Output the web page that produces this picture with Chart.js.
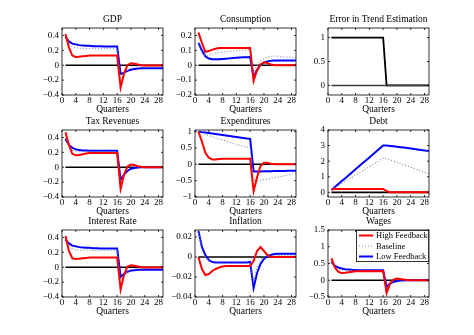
<!DOCTYPE html>
<html>
<head>
<meta charset="utf-8">
<script src="https://cdn.jsdelivr.net/npm/chart.js@4.4.0/dist/chart.umd.min.js"></script>
<style>
  html, body { margin: 0; padding: 0; background: #fff; }
  body { width: 474px; height: 335px; position: relative; overflow: hidden; }
  canvas { position: absolute; }
</style>
</head>
<body>
<script>
// ---- data -------------------------------------------------------------
const quarters = [1,2,3,4,5,6,7,8,9,10,11,12,13,14,15,16,17,18,19,20,21,22,23,24,25,26,27,28,29,30];
const xTicks = [0,4,8,12,16,20,24,28];
const seriesNames = ['High Feedback', 'Baseline', 'Low Feedback'];

const gdpHigh = [0.42,0.24,0.13,0.11,0.115,0.12,0.125,0.13,0.13,0.13,0.13,0.13,0.13,0.13,0.13,0.13,-0.30,-0.11,0.00,0.025,0.02,0.01,0.0,-0.005,-0.005,-0.005,-0.005,-0.005,-0.005,-0.005];
const gdpBase = [0.40,0.30,0.25,0.235,0.23,0.225,0.225,0.225,0.225,0.225,0.225,0.225,0.225,0.225,0.225,0.225,-0.20,-0.12,-0.07,-0.04,-0.03,-0.025,-0.02,-0.02,-0.02,-0.02,-0.02,-0.02,-0.02,-0.02];
const gdpLow  = [0.38,0.32,0.29,0.28,0.27,0.265,0.26,0.26,0.255,0.255,0.255,0.25,0.25,0.25,0.25,0.25,-0.12,-0.10,-0.075,-0.06,-0.05,-0.045,-0.04,-0.04,-0.04,-0.04,-0.04,-0.04,-0.04,-0.04];
const gdpTicks = [-0.4,-0.2,0,0.2,0.4];

const consHigh = [0.22,0.15,0.09,0.095,0.105,0.11,0.115,0.115,0.115,0.115,0.115,0.115,0.115,0.115,0.115,0.115,-0.105,-0.035,0.005,0.02,0.015,0.005,0.0,0.0,0.0,0.0,0.0,0.0,0.0,0.0];
const consBase = [0.14,0.08,0.065,0.07,0.075,0.08,0.085,0.088,0.091,0.094,0.096,0.098,0.10,0.102,0.104,0.105,-0.05,0.0,0.03,0.045,0.055,0.06,0.062,0.06,0.058,0.056,0.054,0.052,0.05,0.048];
const consLow  = [0.15,0.10,0.06,0.045,0.04,0.04,0.04,0.042,0.044,0.046,0.048,0.05,0.052,0.053,0.054,0.055,-0.08,-0.03,0.0,0.018,0.026,0.03,0.031,0.032,0.032,0.032,0.032,0.032,0.032,0.032];
const consTicks = [-0.2,-0.1,0,0.1,0.2];

const trendError = [1,1,1,1,1,1,1,1,1,1,1,1,1,1,1,1,0,0,0,0,0,0,0,0,0,0,0,0,0,0];
const errTicks = [0,0.5,1];

const taxHigh = [0.47,0.30,0.18,0.16,0.165,0.175,0.185,0.19,0.19,0.19,0.19,0.19,0.19,0.19,0.19,0.19,-0.29,-0.10,0.01,0.035,0.03,0.015,0.005,0.0,0.0,0.0,0.0,0.0,0.0,0.0];
const taxBase = [0.40,0.28,0.23,0.215,0.21,0.21,0.21,0.21,0.21,0.21,0.21,0.21,0.21,0.21,0.21,0.21,-0.22,-0.08,-0.01,0.01,0.01,0.005,0.0,0.0,0.0,0.0,0.0,0.0,0.0,0.0];
const taxLow  = [0.38,0.30,0.26,0.24,0.23,0.225,0.225,0.22,0.22,0.22,0.22,0.22,0.22,0.22,0.22,0.22,-0.17,-0.10,-0.05,-0.02,-0.01,-0.005,0.0,0.0,0.0,0.0,0.0,0.0,0.0,0.0];
const taxTicks = [-0.4,-0.2,0,0.2,0.4];

const expHigh = [1.0,0.70,0.35,0.20,0.15,0.15,0.16,0.17,0.17,0.17,0.17,0.17,0.17,0.17,0.17,0.17,-0.82,-0.40,-0.05,0.05,0.05,0.02,0.0,0.0,0.0,0.0,0.0,0.0,0.0,0.0];
const expBase = [0.98,0.945,0.91,0.875,0.84,0.81,0.775,0.745,0.71,0.68,0.645,0.615,0.585,0.555,0.53,0.51,-0.48,-0.51,-0.49,-0.47,-0.45,-0.43,-0.41,-0.39,-0.37,-0.345,-0.32,-0.30,-0.275,-0.25];
const expLow  = [1.0,0.985,0.97,0.955,0.94,0.925,0.91,0.895,0.88,0.865,0.85,0.835,0.82,0.805,0.79,0.78,-0.22,-0.218,-0.216,-0.214,-0.212,-0.21,-0.208,-0.206,-0.204,-0.202,-0.20,-0.198,-0.196,-0.194];
const expTicks = [-1,-0.5,0,0.5,1];

const debtHigh = [0.18,0.21,0.22,0.22,0.22,0.22,0.22,0.22,0.22,0.22,0.22,0.22,0.22,0.22,0.22,0.22,0.08,0.01,0.0,0.0,0.0,0.0,0.0,0.0,0.0,0.0,0.0,0.0,0.0,0.0];
const debtBase = [0.15,0.29,0.42,0.56,0.70,0.83,0.97,1.10,1.24,1.38,1.51,1.65,1.79,1.92,2.06,2.20,2.15,2.08,2.00,1.93,1.85,1.77,1.69,1.61,1.53,1.45,1.37,1.29,1.21,1.13];
const debtLow  = [0.15,0.34,0.53,0.72,0.91,1.10,1.29,1.48,1.67,1.86,2.05,2.24,2.43,2.62,2.81,3.00,3.00,2.98,2.96,2.93,2.90,2.87,2.84,2.81,2.78,2.75,2.72,2.69,2.66,2.63];
const debtTicks = [0,1,2,3,4];

const rateHigh = [0.42,0.22,0.12,0.11,0.115,0.12,0.125,0.13,0.13,0.13,0.13,0.13,0.13,0.13,0.13,0.13,-0.30,-0.10,0.01,0.025,0.02,0.01,0.0,-0.005,-0.005,-0.005,-0.005,-0.005,-0.005,-0.005];
const rateBase = [0.39,0.29,0.25,0.235,0.23,0.23,0.23,0.23,0.225,0.225,0.225,0.225,0.225,0.225,0.225,0.225,-0.21,-0.11,-0.06,-0.035,-0.025,-0.02,-0.02,-0.02,-0.02,-0.02,-0.02,-0.02,-0.02,-0.02];
const rateLow  = [0.37,0.32,0.29,0.28,0.27,0.265,0.26,0.26,0.255,0.255,0.25,0.25,0.25,0.25,0.25,0.25,-0.13,-0.09,-0.06,-0.045,-0.04,-0.035,-0.035,-0.035,-0.035,-0.035,-0.035,-0.035,-0.035,-0.035];
const rateTicks = [-0.4,-0.2,0,0.2,0.4];

const inflHigh = [0.0,-0.012,-0.018,-0.017,-0.014,-0.012,-0.0105,-0.0095,-0.009,-0.009,-0.009,-0.009,-0.009,-0.009,-0.009,-0.009,-0.004,0.006,0.010,0.006,0.002,0.0,0.0,0.0,0.0,0.0,0.0,0.0,0.0,0.0];
const inflBase = [0.024,0.008,0.0,-0.004,-0.006,-0.006,-0.006,-0.006,-0.006,-0.006,-0.006,-0.006,-0.006,-0.006,-0.006,-0.006,-0.024,-0.010,-0.003,0.0,0.001,0.0015,0.0015,0.0015,0.0015,0.0015,0.0015,0.0015,0.0015,0.0015];
const inflLow  = [0.026,0.010,0.002,-0.003,-0.005,-0.0055,-0.0055,-0.0055,-0.0055,-0.0055,-0.0055,-0.0055,-0.0055,-0.0055,-0.0055,-0.005,-0.031,-0.016,-0.007,-0.002,0.001,0.002,0.003,0.0032,0.0033,0.0033,0.0033,0.0033,0.0033,0.0033];
const inflTicks = [-0.04,-0.02,0,0.02];

const wageHigh = [0.65,0.38,0.25,0.22,0.225,0.24,0.255,0.265,0.27,0.27,0.27,0.27,0.27,0.27,0.27,0.27,-0.38,-0.10,0.02,0.05,0.04,0.02,0.005,0.0,0.0,0.0,0.0,0.0,0.0,0.0];
const wageBase = [0.58,0.40,0.32,0.30,0.29,0.29,0.29,0.29,0.29,0.29,0.29,0.29,0.29,0.29,0.29,0.29,-0.30,-0.08,0.0,0.02,0.015,0.005,0.0,0.0,0.0,0.0,0.0,0.0,0.0,0.0];
const wageLow  = [0.55,0.43,0.38,0.35,0.33,0.32,0.31,0.305,0.30,0.30,0.30,0.30,0.30,0.30,0.30,0.30,-0.20,-0.10,-0.05,-0.02,-0.01,-0.005,0.0,0.0,0.0,0.0,0.0,0.0,0.0,0.0];
const wageTicks = [-0.5,0,0.5,1,1.5];

// ---- layout & style ---------------------------------------------------
const colLeft = [62, 195, 328];
const rowTop = [28, 130, 230];
const plotW = 101, plotH = 67;
const AX_W = 34, AX_H = 25, PAD_T = 18, PAD_R = 8;
const X_MAX = 29.3;
const FONT = 'Liberation Serif, Times New Roman, serif';
const RED = '#ff0000', BLUE = '#0000ff', DOT = '#8a8aaa';

const panels = [
  { title: 'GDP', ymin: -0.4, ymax: 0.5, ticks: gdpTicks, high: gdpHigh, base: gdpBase, low: gdpLow },
  { title: 'Consumption', ymin: -0.2, ymax: 0.25, ticks: consTicks, high: consHigh, base: consBase, low: consLow },
  { title: 'Error in Trend Estimation', ymin: -0.2, ymax: 1.2, ticks: errTicks, single: trendError },
  { title: 'Tax Revenues', ymin: -0.4, ymax: 0.5, ticks: taxTicks, high: taxHigh, base: taxBase, low: taxLow },
  { title: 'Expenditures', ymin: -1, ymax: 1.05, ticks: expTicks, high: expHigh, base: expBase, low: expLow },
  { title: 'Debt', ymin: -0.3, ymax: 4, ticks: debtTicks, high: debtHigh, base: debtBase, low: debtLow },
  { title: 'Interest Rate', ymin: -0.4, ymax: 0.5, ticks: rateTicks, high: rateHigh, base: rateBase, low: rateLow },
  { title: 'Inflation', ymin: -0.04, ymax: 0.027, ticks: inflTicks, high: inflHigh, base: inflBase, low: inflLow },
  { title: 'Wages', ymin: -0.5, ymax: 1.5, ticks: wageTicks, high: wageHigh, base: wageBase, low: wageLow, legend: true }
];

const pts = arr => quarters.map((q, i) => ({ x: q, y: arr[i] }));
const fmt = v => (v < 0 ? '\u2212' : '') + String(Math.abs(v));

// Title, box frame, inward tick marks and the legend box
const decor = {
  id: 'decor',
  afterDraw(chart, args, opts) {
    const { ctx, chartArea: a, scales } = chart;
    ctx.save();
    ctx.fillStyle = '#000';
    ctx.font = '9.5px ' + FONT;
    ctx.textAlign = 'center';
    ctx.textBaseline = 'middle';
    ctx.fillText(opts.title, (a.left + a.right) / 2, a.top - 9);

    ctx.strokeStyle = '#000';
    ctx.lineWidth = 0.8;
    ctx.strokeRect(a.left, a.top, a.right - a.left, a.bottom - a.top);
    const tl = 2;
    ctx.beginPath();
    scales.x.ticks.forEach(t => {
      const px = scales.x.getPixelForValue(t.value);
      ctx.moveTo(px, a.bottom); ctx.lineTo(px, a.bottom - tl);
      ctx.moveTo(px, a.top); ctx.lineTo(px, a.top + tl);
    });
    scales.y.ticks.forEach(t => {
      const py = scales.y.getPixelForValue(t.value);
      ctx.moveTo(a.left, py); ctx.lineTo(a.left + tl, py);
      ctx.moveTo(a.right, py); ctx.lineTo(a.right - tl, py);
    });
    ctx.stroke();

    if (opts.legend) {
      const bw = 73, bh = 32;
      const bx = a.right - bw, by = a.top;
      ctx.fillStyle = '#fff';
      ctx.fillRect(bx, by, bw, bh);
      ctx.strokeStyle = '#000';
      ctx.lineWidth = 0.8;
      ctx.strokeRect(bx + 0.4, by + 0.4, bw - 0.8, bh - 0.8);
      const styles = [
        { c: RED, w: 2, d: [] },
        { c: DOT, w: 1.2, d: [1, 2] },
        { c: BLUE, w: 2, d: [] }
      ];
      ctx.font = '8.5px ' + FONT;
      ctx.textAlign = 'left';
      seriesNames.forEach((name, i) => {
        const y = by + 5.5 + i * 10.5;
        ctx.beginPath();
        ctx.strokeStyle = styles[i].c;
        ctx.lineWidth = styles[i].w;
        ctx.setLineDash(styles[i].d);
        ctx.moveTo(bx + 3, y); ctx.lineTo(bx + 17, y);
        ctx.stroke();
        ctx.setLineDash([]);
        ctx.fillStyle = '#000';
        ctx.fillText(name, bx + 20, y + 0.5);
      });
    }
    ctx.restore();
  }
};

panels.forEach((p, idx) => {
  const col = idx % 3, row = Math.floor(idx / 3);
  const cv = document.createElement('canvas');
  const w = plotW + AX_W + PAD_R, h = plotH + PAD_T + AX_H;
  cv.width = w; cv.height = h;
  cv.style.left = (colLeft[col] - AX_W) + 'px';
  cv.style.top = (rowTop[row] - PAD_T) + 'px';
  cv.style.width = w + 'px'; cv.style.height = h + 'px';
  document.body.appendChild(cv);

  const zero = { data: [{ x: 1, y: 0 }, { x: 30, y: 0 }], borderColor: '#000', borderWidth: 1.6 };
  let datasets;
  if (p.single) {
    datasets = [
      { data: [{ x: 1, y: 0 }, { x: 30, y: 0 }], borderColor: '#3a3a3a', borderWidth: 1.6 },
      { data: pts(p.single), borderColor: '#000', borderWidth: 1.8 }
    ];
  } else {
    datasets = [
      { label: seriesNames[0], data: pts(p.high), borderColor: RED, borderWidth: 2 },
      { label: seriesNames[1], data: pts(p.base), borderColor: DOT, borderWidth: 1.2, borderDash: [1, 2] },
      { label: seriesNames[2], data: pts(p.low), borderColor: BLUE, borderWidth: 2 },
      zero
    ];
  }

  new Chart(cv, {
    type: 'line',
    data: { datasets },
    options: {
      responsive: false,
      animation: false,
      devicePixelRatio: 1,
      layout: { padding: { left: 0, top: PAD_T, right: PAD_R, bottom: 0 } },
      elements: { point: { radius: 0 }, line: { tension: 0, fill: false } },
      plugins: {
        legend: { display: false },
        tooltip: { enabled: false },
        decor: { title: p.title, legend: !!p.legend }
      },
      scales: {
        x: {
          type: 'linear', min: 0, max: X_MAX,
          grid: { display: false, drawTicks: false },
          border: { display: false },
          afterBuildTicks: s => { s.ticks = xTicks.map(v => ({ value: v })); },
          afterFit: s => { s.height = AX_H; },
          ticks: { color: '#000', font: { family: FONT, size: 9 }, padding: 0, maxRotation: 0, autoSkip: false, callback: v => fmt(v) },
          title: { display: true, text: 'Quarters', color: '#000', font: { family: FONT, size: 9.5 }, padding: { top: 0, bottom: 4.5 } }
        },
        y: {
          type: 'linear', min: p.ymin, max: p.ymax,
          grid: { display: false, drawTicks: false },
          border: { display: false },
          afterBuildTicks: s => { s.ticks = p.ticks.map(v => ({ value: v })); },
          afterFit: s => { s.width = AX_W; },
          ticks: { color: '#000', font: { family: FONT, size: 9 }, padding: 3, autoSkip: false, callback: v => fmt(v) }
        }
      }
    },
    plugins: [decor]
  });
});
</script>
</body>
</html>
